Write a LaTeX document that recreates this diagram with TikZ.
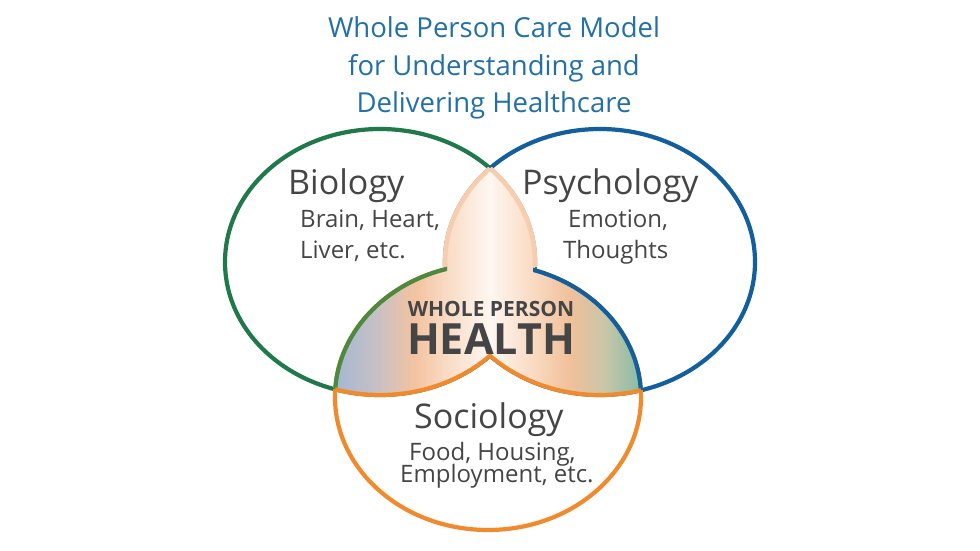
\documentclass[tikz,border=0pt]{standalone}
\usepackage{fontspec}
\setmainfont{Open Sans}
\definecolor{bio}{HTML}{20794A}
\definecolor{psy}{HTML}{135E9C}
\definecolor{soc}{HTML}{F08A2C}
\definecolor{peach}{HTML}{F6CDAE}
\definecolor{lobegreen}{HTML}{4E8A3E}
\definecolor{titleblue}{HTML}{2370A6}
\definecolor{txt}{HTML}{454545}
\definecolor{sa}{HTML}{A3B8D0}
\definecolor{sb}{HTML}{C6C0C6}
\definecolor{sc}{HTML}{F3C3A0}
\definecolor{sd}{HTML}{F9DAC3}
\definecolor{se}{HTML}{FEF7F1}
\definecolor{sf}{HTML}{F9D9C0}
\definecolor{sg}{HTML}{F0C09A}
\definecolor{sh}{HTML}{C8C6A8}
\definecolor{si}{HTML}{86BCA6}
\pgfdeclarehorizontalshading{wph}{100bp}{color(0bp)=(sa); color(25bp)=(sa); color(31.6bp)=(sb); color(38.1bp)=(sc); color(43bp)=(sd); color(50.4bp)=(se); color(57.8bp)=(sf); color(63.5bp)=(sg); color(69.3bp)=(sh); color(75bp)=(si); color(100bp)=(si)}
\begin{document}
\begin{tikzpicture}[x=1pt,y=-1pt,
  ttl/.style={font=\fontsize{27.5}{32}\selectfont, text=titleblue, inner sep=0pt, anchor=base},
  head/.style={font=\fontsize{34}{38}\selectfont, text=txt, inner sep=0pt, anchor=base west},
  sub/.style={font=\fontsize{24}{28}\selectfont, text=txt, inner sep=0pt, anchor=base west},
  ring/.style={line width=4.2pt},
  seam/.style={line width=4.6pt}]
\useasboundingbox (0,0) rectangle (980,551);
\fill[white] (0,0) rectangle (980,551);
\def\ellG{(380,262) ellipse [x radius=155pt, y radius=133pt]}
\def\ellP{(600,262) ellipse [x radius=155pt, y radius=133pt]}
\def\ellO{(488,397) ellipse [x radius=153pt, y radius=133pt]}
% full rings
\draw[ring, bio] \ellG;
\draw[ring, psy] \ellP;
\draw[ring, soc] \ellO;
% whole person region
\begin{scope}\clip \ellG; \clip \ellP; \shade[shading=wph] (335,150) rectangle (640,400); \end{scope}
\begin{scope}\clip \ellG; \clip \ellO; \shade[shading=wph] (335,150) rectangle (640,400); \end{scope}
\begin{scope}\clip \ellP; \clip \ellO; \shade[shading=wph] (335,150) rectangle (640,400); \end{scope}
% petal edges
\begin{scope}\clip \ellG; \clip (300,100) rectangle (700,268); \draw[seam, peach] \ellP; \end{scope}
\begin{scope}\clip \ellP; \clip (300,100) rectangle (700,266); \draw[seam, peach] \ellG; \end{scope}
% lobe edges
\begin{scope}\clip \ellG; \clip (300,200) rectangle (447,420); \draw[ring, lobegreen] \ellO; \end{scope}
\begin{scope}\clip \ellP; \clip (533,200) rectangle (700,420); \draw[ring, psy] \ellO; \end{scope}
% bottom cusp
\begin{scope}\clip \ellO; \clip (300,300) rectangle (490,420); \draw[ring, soc] \ellG; \end{scope}
\begin{scope}\clip \ellO; \clip (490,300) rectangle (700,420); \draw[ring, soc] \ellP; \end{scope}
% title
\node[ttl] (t1) at (494,38) {Whole Person Care Model};
\node[ttl] (t2) at (494,75) {for Understanding and};
\node[ttl] (t3) at (494,112) {Delivering Healthcare};
% biology
\node[head] (bio) at (288,194) {Biology};
\node[sub] (bio1) at (300,227) {Brain, Heart,};
\node[sub] (bio2) at (300,258) {Liver, etc.};
% psychology
\node[head] (psy) at (522,194) {Psychology};
\node[sub] (psy1) at (568,227) {Emotion,};
\node[sub] (psy2) at (563,258) {Thoughts};
% sociology
\node[head] (soc) at (414,428) {Sociology};
\node[sub] (soc1) at (409,460) {Food, Housing,};
\node[sub] (soc2) at (400,482) {Employment, etc.};
% center
\node[font=\fontsize{21}{24}\selectfont\bfseries, text=txt, inner sep=0pt, anchor=base] (wp) at (491,316) {WHOLE PERSON};
\node[font=\fontsize{43}{48}\selectfont\bfseries, text=txt, inner sep=0pt, anchor=base] (hl) at (491,354) {HEALTH};
\end{tikzpicture}
\end{document}
